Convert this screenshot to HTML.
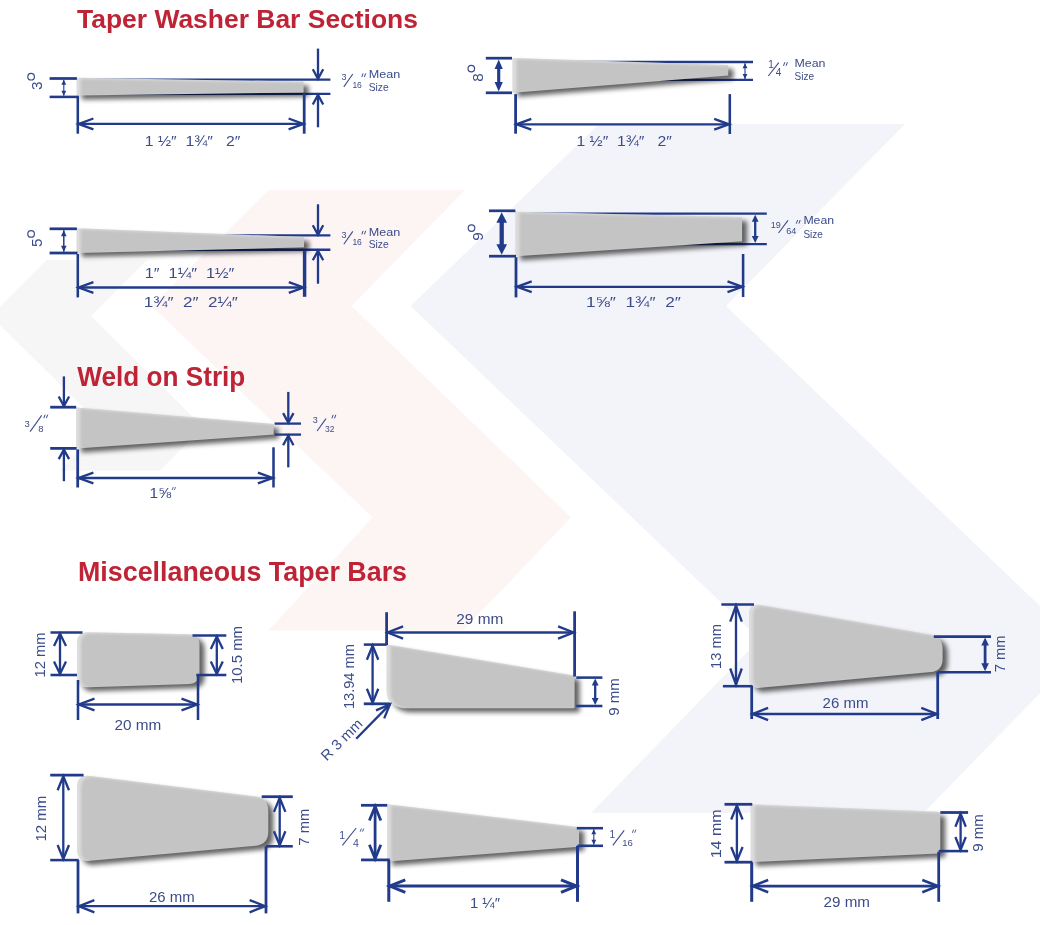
<!DOCTYPE html>
<html lang="en"><head><meta charset="utf-8"><title>Taper Washer Bar Sections</title>
<style>html,body{margin:0;padding:0;background:#fff}body{width:1040px;height:925px;overflow:hidden;font-family:"Liberation Sans",sans-serif}svg{display:block;font-family:"Liberation Sans",sans-serif}</style>
</head><body>
<svg width="1040" height="925" viewBox="0 0 1040 925">
<defs><filter id="sh" x="-10%" y="-40%" width="125%" height="200%" color-interpolation-filters="sRGB"><feGaussianBlur in="SourceAlpha" stdDeviation="2.9" result="b"/><feOffset in="b" dx="4.6" dy="4.2" result="o"/><feComponentTransfer in="o" result="shadow"><feFuncA type="linear" slope="0.62"/></feComponentTransfer><feGaussianBlur in="SourceAlpha" stdDeviation="1.7" result="ib"/><feOffset in="ib" dx="3.6" dy="1.4" result="io"/><feComposite in="SourceAlpha" in2="io" operator="out" result="edge"/><feFlood flood-color="#ffffff" flood-opacity="0.42" result="w"/><feComposite in="w" in2="edge" operator="in" result="hl"/><feMerge><feMergeNode in="shadow"/><feMergeNode in="SourceGraphic"/><feMergeNode in="hl"/></feMerge></filter></defs>
<rect width="1040" height="925" fill="#ffffff"/>
<polygon points="46.5,260 147,260 91,316 203,427 160,470.5 60,470.5 103,427 -9,316" fill="#f6f6f7"/>
<polygon points="269,190 465,190 351.5,306 571,517.5 463,630.5 268.5,630.5 372.5,517.5 151.5,306" fill="#fdf4f4"/>
<polygon points="599,124 905,124 726,306 1084,648 923.5,813 591,813 759.6,639.3 410.6,306" fill="#f3f4f9"/>
<text x="77" y="27.5" font-size="26" textLength="341" lengthAdjust="spacingAndGlyphs" font-weight="bold" fill="#be2436" opacity="0.995">Taper Washer Bar Sections</text>
<text x="77.3" y="386" font-size="28" textLength="168" lengthAdjust="spacingAndGlyphs" font-weight="bold" fill="#be2436" opacity="0.995">Weld on Strip</text>
<text x="78" y="581.3" font-size="27" textLength="329" lengthAdjust="spacingAndGlyphs" font-weight="bold" fill="#be2436" opacity="0.995">Miscellaneous Taper Bars</text>
<line x1="90" y1="79.6" x2="330.4" y2="79.6" stroke="#213b8a" stroke-width="2.44" stroke-linecap="butt"/>
<line x1="90" y1="93.9" x2="330.4" y2="93.9" stroke="#213b8a" stroke-width="2.44" stroke-linecap="butt"/>
<polygon points="76.7,77.8 303.6,81.6 303.6,92.4 76.7,95.4" fill="#c4c4c4" filter="url(#sh)"/>
<line x1="49.6" y1="78.5" x2="76.9" y2="78.5" stroke="#213b8a" stroke-width="2.73" stroke-linecap="butt"/>
<line x1="49.6" y1="96.9" x2="78.9" y2="96.9" stroke="#213b8a" stroke-width="2.55" stroke-linecap="butt"/>
<line x1="63.8" y1="79.8" x2="63.8" y2="95.8" stroke="#213b8a" stroke-width="1.1" stroke-linecap="butt"/>
<polygon points="61.4,90.8 63.8,95.8 66.2,90.8" fill="#213b8a"/>
<polygon points="66.2,84.8 63.8,79.8 61.4,84.8" fill="#213b8a"/>
<line x1="77.8" y1="96.5" x2="77.8" y2="133.7" stroke="#213b8a" stroke-width="2.55" stroke-linecap="butt"/>
<line x1="304.2" y1="93.5" x2="304.2" y2="133.7" stroke="#213b8a" stroke-width="2.78" stroke-linecap="butt"/>
<line x1="78.6" y1="123.9" x2="303.4" y2="123.9" stroke="#213b8a" stroke-width="2.32" stroke-linecap="butt"/>
<polyline points="288.6,129.3 303.4,123.9 288.6,118.5" fill="none" stroke="#213b8a" stroke-width="2.32" stroke-linejoin="miter" stroke-miterlimit="10"/>
<polyline points="93.4,118.5 78.6,123.9 93.4,129.3" fill="none" stroke="#213b8a" stroke-width="2.32" stroke-linejoin="miter" stroke-miterlimit="10"/>
<line x1="318" y1="48.6" x2="318" y2="78.8" stroke="#213b8a" stroke-width="2.32" stroke-linecap="butt"/>
<polyline points="312.8,69.3 318,78.8 323.2,69.3" fill="none" stroke="#213b8a" stroke-width="2.32" stroke-linejoin="miter" stroke-miterlimit="10"/>
<line x1="318" y1="127.3" x2="318" y2="95" stroke="#213b8a" stroke-width="2.32" stroke-linecap="butt"/>
<polyline points="323.2,104.5 318,95 312.8,104.5" fill="none" stroke="#213b8a" stroke-width="2.32" stroke-linejoin="miter" stroke-miterlimit="10"/>
<text x="42.3" y="85.7" font-size="15" text-anchor="middle" textLength="8.5" lengthAdjust="spacingAndGlyphs" transform="rotate(-90 42.3 85.7)" fill="#3c4c8a" opacity="0.995">3</text>
<circle cx="31.1" cy="76.7" r="3.3" fill="none" stroke="#3c4c8a" stroke-width="1.2"/>
<text x="144.8" y="146.3" font-size="15.3" textLength="95.5" lengthAdjust="spacingAndGlyphs" fill="#3c4c8a" opacity="0.995">1 ½″&#160; 1¾″&#160;&#160; 2″</text>
<text x="341.6" y="80.1" font-size="9" fill="#3c4c8a" opacity="0.995">3</text>
<line x1="343.8" y1="86.9" x2="352.8" y2="74" stroke="#3c4c8a" stroke-width="1.1" stroke-linecap="butt"/>
<text x="352.4" y="87.5" font-size="8.5" fill="#3c4c8a" opacity="0.995">16</text>
<line x1="363.1" y1="73.4" x2="361.8" y2="77" stroke="#3c4c8a" stroke-width="1"/>
<line x1="365.7" y1="73.4" x2="364.4" y2="77" stroke="#3c4c8a" stroke-width="1"/>
<text x="368.7" y="78.2" font-size="11.5" textLength="31.5" lengthAdjust="spacingAndGlyphs" fill="#3c4c8a" opacity="0.995">Mean</text>
<text x="368.7" y="90.7" font-size="11.5" textLength="20" lengthAdjust="spacingAndGlyphs" fill="#3c4c8a" opacity="0.995">Size</text>
<line x1="525" y1="62" x2="753" y2="62" stroke="#213b8a" stroke-width="2.44" stroke-linecap="butt"/>
<line x1="525" y1="79.9" x2="753" y2="79.9" stroke="#213b8a" stroke-width="2.44" stroke-linecap="butt"/>
<polygon points="512.5,58.1 728.3,64.9 728.3,75.5 512.5,92.8" fill="#c4c4c4" filter="url(#sh)"/>
<line x1="485.8" y1="58.2" x2="512" y2="58.2" stroke="#213b8a" stroke-width="2.73" stroke-linecap="butt"/>
<line x1="485.8" y1="92.8" x2="512" y2="92.8" stroke="#213b8a" stroke-width="2.73" stroke-linecap="butt"/>
<line x1="498.7" y1="66.2" x2="498.7" y2="84.8" stroke="#213b8a" stroke-width="3.13" stroke-linecap="butt"/>
<polygon points="494.6,82 498.7,91.5 502.8,82" fill="#213b8a"/>
<polygon points="502.8,69 498.7,59.5 494.6,69" fill="#213b8a"/>
<line x1="745" y1="63.2" x2="745" y2="78.9" stroke="#213b8a" stroke-width="1.1" stroke-linecap="butt"/>
<polygon points="742.6,73.9 745,78.9 747.4,73.9" fill="#213b8a"/>
<polygon points="747.4,68.2 745,63.2 742.6,68.2" fill="#213b8a"/>
<line x1="515.6" y1="94.1" x2="515.6" y2="133.7" stroke="#213b8a" stroke-width="2.78" stroke-linecap="butt"/>
<line x1="729.8" y1="94.1" x2="729.8" y2="134" stroke="#213b8a" stroke-width="2.55" stroke-linecap="butt"/>
<line x1="516.5" y1="124.3" x2="729" y2="124.3" stroke="#213b8a" stroke-width="2.32" stroke-linecap="butt"/>
<polyline points="714.2,129.7 729,124.3 714.2,118.9" fill="none" stroke="#213b8a" stroke-width="2.32" stroke-linejoin="miter" stroke-miterlimit="10"/>
<polyline points="531.3,118.9 516.5,124.3 531.3,129.7" fill="none" stroke="#213b8a" stroke-width="2.32" stroke-linejoin="miter" stroke-miterlimit="10"/>
<text x="482.9" y="77.6" font-size="15" text-anchor="middle" textLength="8.5" lengthAdjust="spacingAndGlyphs" transform="rotate(-90 482.9 77.6)" fill="#3c4c8a" opacity="0.995">8</text>
<circle cx="471.3" cy="68.6" r="3.3" fill="none" stroke="#3c4c8a" stroke-width="1.2"/>
<text x="576.4" y="145.9" font-size="15.3" textLength="95.5" lengthAdjust="spacingAndGlyphs" fill="#3c4c8a" opacity="0.995">1 ½″&#160; 1¾″&#160;&#160; 2″</text>
<text x="768.2" y="68" font-size="10" fill="#3c4c8a" opacity="0.995">1</text>
<line x1="768.3" y1="76" x2="778.8" y2="62.6" stroke="#3c4c8a" stroke-width="1.1" stroke-linecap="butt"/>
<text x="775.8" y="76.4" font-size="10" fill="#3c4c8a" opacity="0.995">4</text>
<line x1="784.8" y1="62.2" x2="783.5" y2="65.8" stroke="#3c4c8a" stroke-width="1"/>
<line x1="787.4" y1="62.2" x2="786.1" y2="65.8" stroke="#3c4c8a" stroke-width="1"/>
<text x="794.5" y="67.4" font-size="11.5" textLength="31" lengthAdjust="spacingAndGlyphs" fill="#3c4c8a" opacity="0.995">Mean</text>
<text x="794.5" y="79.9" font-size="11.5" textLength="19.5" lengthAdjust="spacingAndGlyphs" fill="#3c4c8a" opacity="0.995">Size</text>
<line x1="90" y1="235.4" x2="330.4" y2="235.4" stroke="#213b8a" stroke-width="2.44" stroke-linecap="butt"/>
<line x1="90" y1="249.8" x2="330.4" y2="249.8" stroke="#213b8a" stroke-width="2.44" stroke-linecap="butt"/>
<polygon points="76.7,228.2 304,237.1 304,247.3 76.7,253" fill="#c4c4c4" filter="url(#sh)"/>
<line x1="49.6" y1="228.8" x2="76.9" y2="228.8" stroke="#213b8a" stroke-width="2.73" stroke-linecap="butt"/>
<line x1="49.6" y1="253" x2="77.5" y2="253" stroke="#213b8a" stroke-width="2.78" stroke-linecap="butt"/>
<line x1="63.8" y1="230.2" x2="63.8" y2="251.8" stroke="#213b8a" stroke-width="1.5" stroke-linecap="butt"/>
<polygon points="61,245.8 63.8,251.8 66.6,245.8" fill="#213b8a"/>
<polygon points="66.6,236.2 63.8,230.2 61,236.2" fill="#213b8a"/>
<line x1="77.8" y1="254" x2="77.8" y2="297.4" stroke="#213b8a" stroke-width="2.55" stroke-linecap="butt"/>
<line x1="304.6" y1="250.5" x2="304.6" y2="296.8" stroke="#213b8a" stroke-width="3.48" stroke-linecap="butt"/>
<line x1="78.6" y1="287.5" x2="303.6" y2="287.5" stroke="#213b8a" stroke-width="2.32" stroke-linecap="butt"/>
<polyline points="288.8,292.9 303.6,287.5 288.8,282.1" fill="none" stroke="#213b8a" stroke-width="2.32" stroke-linejoin="miter" stroke-miterlimit="10"/>
<polyline points="93.4,282.1 78.6,287.5 93.4,292.9" fill="none" stroke="#213b8a" stroke-width="2.32" stroke-linejoin="miter" stroke-miterlimit="10"/>
<line x1="318" y1="204.3" x2="318" y2="234.8" stroke="#213b8a" stroke-width="2.32" stroke-linecap="butt"/>
<polyline points="312.8,225.3 318,234.8 323.2,225.3" fill="none" stroke="#213b8a" stroke-width="2.32" stroke-linejoin="miter" stroke-miterlimit="10"/>
<line x1="318" y1="283.7" x2="318" y2="250.8" stroke="#213b8a" stroke-width="2.32" stroke-linecap="butt"/>
<polyline points="323.2,260.3 318,250.8 312.8,260.3" fill="none" stroke="#213b8a" stroke-width="2.32" stroke-linejoin="miter" stroke-miterlimit="10"/>
<text x="42.3" y="242.7" font-size="15" text-anchor="middle" textLength="8.5" lengthAdjust="spacingAndGlyphs" transform="rotate(-90 42.3 242.7)" fill="#3c4c8a" opacity="0.995">5</text>
<circle cx="31.1" cy="233.9" r="3.3" fill="none" stroke="#3c4c8a" stroke-width="1.2"/>
<text x="144.8" y="277.7" font-size="15.3" textLength="89.5" lengthAdjust="spacingAndGlyphs" fill="#3c4c8a" opacity="0.995">1″&#160; 1¼″&#160; 1½″</text>
<text x="143.8" y="307.3" font-size="15.3" textLength="94" lengthAdjust="spacingAndGlyphs" fill="#3c4c8a" opacity="0.995">1¾″&#160; 2″&#160; 2¼″</text>
<text x="341.6" y="237.5" font-size="9" fill="#3c4c8a" opacity="0.995">3</text>
<line x1="343.8" y1="244.3" x2="352.8" y2="231.4" stroke="#3c4c8a" stroke-width="1.1" stroke-linecap="butt"/>
<text x="352.4" y="244.9" font-size="8.5" fill="#3c4c8a" opacity="0.995">16</text>
<line x1="363.1" y1="230.8" x2="361.8" y2="234.4" stroke="#3c4c8a" stroke-width="1"/>
<line x1="365.7" y1="230.8" x2="364.4" y2="234.4" stroke="#3c4c8a" stroke-width="1"/>
<text x="368.7" y="235.6" font-size="11.5" textLength="31.5" lengthAdjust="spacingAndGlyphs" fill="#3c4c8a" opacity="0.995">Mean</text>
<text x="368.7" y="248.1" font-size="11.5" textLength="20" lengthAdjust="spacingAndGlyphs" fill="#3c4c8a" opacity="0.995">Size</text>
<line x1="530" y1="213.6" x2="766.8" y2="213.6" stroke="#213b8a" stroke-width="2.44" stroke-linecap="butt"/>
<line x1="530" y1="244.1" x2="766.8" y2="244.1" stroke="#213b8a" stroke-width="2.44" stroke-linecap="butt"/>
<polygon points="515.4,211.7 742.1,217 742.1,241.3 515.4,256.2" fill="#c4c4c4" filter="url(#sh)"/>
<line x1="489" y1="210.8" x2="515.4" y2="210.8" stroke="#213b8a" stroke-width="2.73" stroke-linecap="butt"/>
<line x1="489" y1="256.2" x2="516" y2="256.2" stroke="#213b8a" stroke-width="2.73" stroke-linecap="butt"/>
<line x1="501.7" y1="219.5" x2="501.7" y2="247.5" stroke="#213b8a" stroke-width="4.29" stroke-linecap="butt"/>
<polygon points="496.4,244.3 501.7,254.8 507,244.3" fill="#213b8a"/>
<polygon points="507,222.7 501.7,212.2 496.4,222.7" fill="#213b8a"/>
<line x1="755.2" y1="219.7" x2="755.2" y2="238.2" stroke="#213b8a" stroke-width="2.32" stroke-linecap="butt"/>
<polygon points="751.8,236.1 755.2,243.1 758.6,236.1" fill="#213b8a"/>
<polygon points="758.6,221.8 755.2,214.8 751.8,221.8" fill="#213b8a"/>
<line x1="516" y1="257.2" x2="516" y2="297.4" stroke="#213b8a" stroke-width="2.78" stroke-linecap="butt"/>
<line x1="743.1" y1="254" x2="743.1" y2="297" stroke="#213b8a" stroke-width="2.55" stroke-linecap="butt"/>
<line x1="516.9" y1="286.8" x2="742.3" y2="286.8" stroke="#213b8a" stroke-width="2.32" stroke-linecap="butt"/>
<polyline points="727.5,292.2 742.3,286.8 727.5,281.4" fill="none" stroke="#213b8a" stroke-width="2.32" stroke-linejoin="miter" stroke-miterlimit="10"/>
<polyline points="531.7,281.4 516.9,286.8 531.7,292.2" fill="none" stroke="#213b8a" stroke-width="2.32" stroke-linejoin="miter" stroke-miterlimit="10"/>
<text x="482.8" y="236.6" font-size="15" text-anchor="middle" textLength="8.5" lengthAdjust="spacingAndGlyphs" transform="rotate(-90 482.8 236.6)" fill="#3c4c8a" opacity="0.995">9</text>
<circle cx="471.5" cy="228.1" r="3.3" fill="none" stroke="#3c4c8a" stroke-width="1.2"/>
<text x="585.9" y="306.9" font-size="15.3" textLength="95" lengthAdjust="spacingAndGlyphs" fill="#3c4c8a" opacity="0.995">1⅝″&#160; 1¾″&#160; 2″</text>
<text x="770.8" y="227.6" font-size="9" fill="#3c4c8a" opacity="0.995">19</text>
<line x1="778.5" y1="233" x2="788" y2="220.3" stroke="#3c4c8a" stroke-width="1.1" stroke-linecap="butt"/>
<text x="786.3" y="234.2" font-size="9" fill="#3c4c8a" opacity="0.995">64</text>
<line x1="797.6" y1="220" x2="796.3" y2="223.6" stroke="#3c4c8a" stroke-width="1"/>
<line x1="800.2" y1="220" x2="798.9" y2="223.6" stroke="#3c4c8a" stroke-width="1"/>
<text x="803.4" y="224.4" font-size="11.5" textLength="30.7" lengthAdjust="spacingAndGlyphs" fill="#3c4c8a" opacity="0.995">Mean</text>
<text x="803.4" y="237.5" font-size="11.5" textLength="19.5" lengthAdjust="spacingAndGlyphs" fill="#3c4c8a" opacity="0.995">Size</text>
<polygon points="76.2,407.5 273.7,424 273.7,434.6 76.2,448.4" fill="#c4c4c4" filter="url(#sh)"/>
<line x1="50.2" y1="407.2" x2="76.2" y2="407.2" stroke="#213b8a" stroke-width="2.78" stroke-linecap="butt"/>
<line x1="50.2" y1="448.4" x2="76.6" y2="448.4" stroke="#213b8a" stroke-width="2.78" stroke-linecap="butt"/>
<line x1="63.9" y1="376.4" x2="63.9" y2="406" stroke="#213b8a" stroke-width="2.32" stroke-linecap="butt"/>
<polyline points="58.7,396.5 63.9,406 69.1,396.5" fill="none" stroke="#213b8a" stroke-width="2.32" stroke-linejoin="miter" stroke-miterlimit="10"/>
<line x1="63.9" y1="481.2" x2="63.9" y2="449.6" stroke="#213b8a" stroke-width="2.32" stroke-linecap="butt"/>
<polyline points="69.1,459.1 63.9,449.6 58.7,459.1" fill="none" stroke="#213b8a" stroke-width="2.32" stroke-linejoin="miter" stroke-miterlimit="10"/>
<line x1="77.7" y1="449.4" x2="77.7" y2="487.5" stroke="#213b8a" stroke-width="2.78" stroke-linecap="butt"/>
<line x1="273.5" y1="447.3" x2="273.5" y2="487.5" stroke="#213b8a" stroke-width="2.55" stroke-linecap="butt"/>
<line x1="78.6" y1="478" x2="272.7" y2="478" stroke="#213b8a" stroke-width="2.32" stroke-linecap="butt"/>
<polyline points="257.9,483.4 272.7,478 257.9,472.6" fill="none" stroke="#213b8a" stroke-width="2.32" stroke-linejoin="miter" stroke-miterlimit="10"/>
<polyline points="93.4,472.6 78.6,478 93.4,483.4" fill="none" stroke="#213b8a" stroke-width="2.32" stroke-linejoin="miter" stroke-miterlimit="10"/>
<line x1="274.6" y1="423.6" x2="301" y2="423.6" stroke="#213b8a" stroke-width="2.32" stroke-linecap="butt"/>
<line x1="274.6" y1="434.6" x2="301" y2="434.6" stroke="#213b8a" stroke-width="2.32" stroke-linecap="butt"/>
<line x1="288.3" y1="391.9" x2="288.3" y2="422.6" stroke="#213b8a" stroke-width="2.32" stroke-linecap="butt"/>
<polyline points="283.1,413.1 288.3,422.6 293.5,413.1" fill="none" stroke="#213b8a" stroke-width="2.32" stroke-linejoin="miter" stroke-miterlimit="10"/>
<line x1="288.3" y1="467.4" x2="288.3" y2="435.7" stroke="#213b8a" stroke-width="2.32" stroke-linecap="butt"/>
<polyline points="293.5,445.2 288.3,435.7 283.1,445.2" fill="none" stroke="#213b8a" stroke-width="2.32" stroke-linejoin="miter" stroke-miterlimit="10"/>
<text x="24.6" y="426.6" font-size="9.5" fill="#3c4c8a" opacity="0.995">3</text>
<line x1="30.1" y1="431.6" x2="41.7" y2="415.4" stroke="#3c4c8a" stroke-width="1.1" stroke-linecap="butt"/>
<text x="38.2" y="432.4" font-size="9.5" fill="#3c4c8a" opacity="0.995">8</text>
<line x1="45.1" y1="414.6" x2="43.8" y2="418.2" stroke="#3c4c8a" stroke-width="1"/>
<line x1="47.7" y1="414.6" x2="46.4" y2="418.2" stroke="#3c4c8a" stroke-width="1"/>
<text x="312.8" y="423.4" font-size="9" fill="#3c4c8a" opacity="0.995">3</text>
<line x1="317.1" y1="431" x2="326" y2="418.6" stroke="#3c4c8a" stroke-width="1.1" stroke-linecap="butt"/>
<text x="325" y="432" font-size="8.5" fill="#3c4c8a" opacity="0.995">32</text>
<line x1="333.2" y1="414.8" x2="331.9" y2="418.4" stroke="#3c4c8a" stroke-width="1"/>
<line x1="335.8" y1="414.8" x2="334.5" y2="418.4" stroke="#3c4c8a" stroke-width="1"/>
<text x="149.6" y="498.1" font-size="14" textLength="21.5" lengthAdjust="spacingAndGlyphs" fill="#3c4c8a" opacity="0.995">1⅝</text>
<line x1="173.3" y1="487" x2="172.2" y2="490.1" stroke="#3c4c8a" stroke-width="0.8"/>
<line x1="175.5" y1="487" x2="174.4" y2="490.1" stroke="#3c4c8a" stroke-width="0.8"/>
<path d="M77,643 Q77,632 88,632.2 L188.5,634.3 Q199.5,634.5 199.5,645.5 L199.5,672.8 Q199.5,683.8 188.5,684.1 L88,687.2 Q77,687.5 77,676.5 Z" fill="#c4c4c4" filter="url(#sh)"/>
<line x1="50.5" y1="632.5" x2="82.5" y2="632.5" stroke="#213b8a" stroke-width="2.55" stroke-linecap="butt"/>
<line x1="50.5" y1="675" x2="77" y2="675" stroke="#213b8a" stroke-width="2.55" stroke-linecap="butt"/>
<line x1="60" y1="633.6" x2="60" y2="673.9" stroke="#213b8a" stroke-width="2.32" stroke-linecap="butt"/>
<polyline points="54,661.4 60,673.9 66,661.4" fill="none" stroke="#213b8a" stroke-width="2.32" stroke-linejoin="miter" stroke-miterlimit="10"/>
<polyline points="66,646.1 60,633.6 54,646.1" fill="none" stroke="#213b8a" stroke-width="2.32" stroke-linejoin="miter" stroke-miterlimit="10"/>
<text x="45.4" y="655" font-size="15" text-anchor="middle" textLength="45" lengthAdjust="spacingAndGlyphs" transform="rotate(-90 45.4 655)" fill="#3c4c8a" opacity="0.995">12 mm</text>
<line x1="192.5" y1="635.5" x2="226.3" y2="635.5" stroke="#213b8a" stroke-width="2.55" stroke-linecap="butt"/>
<line x1="196.3" y1="675" x2="226.3" y2="675" stroke="#213b8a" stroke-width="2.55" stroke-linecap="butt"/>
<line x1="216.8" y1="636.6" x2="216.8" y2="673.9" stroke="#213b8a" stroke-width="2.32" stroke-linecap="butt"/>
<polyline points="210.8,661.4 216.8,673.9 222.8,661.4" fill="none" stroke="#213b8a" stroke-width="2.32" stroke-linejoin="miter" stroke-miterlimit="10"/>
<polyline points="222.8,649.1 216.8,636.6 210.8,649.1" fill="none" stroke="#213b8a" stroke-width="2.32" stroke-linejoin="miter" stroke-miterlimit="10"/>
<text x="241.7" y="655" font-size="15" text-anchor="middle" textLength="58" lengthAdjust="spacingAndGlyphs" transform="rotate(-90 241.7 655)" fill="#3c4c8a" opacity="0.995">10.5 mm</text>
<line x1="78" y1="680" x2="78" y2="720" stroke="#213b8a" stroke-width="2.55" stroke-linecap="butt"/>
<line x1="198" y1="675" x2="198" y2="720" stroke="#213b8a" stroke-width="2.55" stroke-linecap="butt"/>
<line x1="78.8" y1="704.5" x2="197.2" y2="704.5" stroke="#213b8a" stroke-width="2.32" stroke-linecap="butt"/>
<polyline points="181.5,710.4 197.2,704.5 181.5,698.6" fill="none" stroke="#213b8a" stroke-width="2.32" stroke-linejoin="miter" stroke-miterlimit="10"/>
<polyline points="94.5,698.6 78.8,704.5 94.5,710.4" fill="none" stroke="#213b8a" stroke-width="2.32" stroke-linejoin="miter" stroke-miterlimit="10"/>
<text x="114.5" y="729.5" font-size="14.5" textLength="46.8" lengthAdjust="spacingAndGlyphs" fill="#3c4c8a" opacity="0.995">20 mm</text>
<path d="M386.6,644.6 L574.6,675.7 L574.6,707 Q574.6,708.3 573,708.3 L404,708.3 Q386.6,706 386.6,690 Z" fill="#c4c4c4" filter="url(#sh)"/>
<line x1="386.6" y1="612.2" x2="386.6" y2="645" stroke="#213b8a" stroke-width="2.78" stroke-linecap="butt"/>
<line x1="574.6" y1="611.3" x2="574.6" y2="676.6" stroke="#213b8a" stroke-width="2.78" stroke-linecap="butt"/>
<line x1="387.6" y1="632.5" x2="573.6" y2="632.5" stroke="#213b8a" stroke-width="2.32" stroke-linecap="butt"/>
<polyline points="558.1,638.6 573.6,632.5 558.1,626.4" fill="none" stroke="#213b8a" stroke-width="2.32" stroke-linejoin="miter" stroke-miterlimit="10"/>
<polyline points="403.1,626.4 387.6,632.5 403.1,638.6" fill="none" stroke="#213b8a" stroke-width="2.32" stroke-linejoin="miter" stroke-miterlimit="10"/>
<text x="456.3" y="624.3" font-size="14.5" textLength="47" lengthAdjust="spacingAndGlyphs" fill="#3c4c8a" opacity="0.995">29 mm</text>
<line x1="363.8" y1="644.6" x2="386.6" y2="644.6" stroke="#213b8a" stroke-width="2.55" stroke-linecap="butt"/>
<line x1="363.8" y1="703.8" x2="390" y2="703.8" stroke="#213b8a" stroke-width="2.78" stroke-linecap="butt"/>
<line x1="372.6" y1="645.7" x2="372.6" y2="702.7" stroke="#213b8a" stroke-width="2.32" stroke-linecap="butt"/>
<polyline points="366.9,688.7 372.6,702.7 378.3,688.7" fill="none" stroke="#213b8a" stroke-width="2.32" stroke-linejoin="miter" stroke-miterlimit="10"/>
<polyline points="378.3,659.7 372.6,645.7 366.9,659.7" fill="none" stroke="#213b8a" stroke-width="2.32" stroke-linejoin="miter" stroke-miterlimit="10"/>
<text x="354.4" y="676.6" font-size="15" text-anchor="middle" textLength="65" lengthAdjust="spacingAndGlyphs" transform="rotate(-90 354.4 676.6)" fill="#3c4c8a" opacity="0.995">13.94 mm</text>
<line x1="576.3" y1="677.6" x2="602.4" y2="677.6" stroke="#213b8a" stroke-width="2.55" stroke-linecap="butt"/>
<line x1="576.3" y1="706" x2="602.4" y2="706" stroke="#213b8a" stroke-width="2.55" stroke-linecap="butt"/>
<line x1="595.2" y1="683.5" x2="595.2" y2="700.1" stroke="#213b8a" stroke-width="2.32" stroke-linecap="butt"/>
<polygon points="591.8,698 595.2,705 598.6,698" fill="#213b8a"/>
<polygon points="598.6,685.6 595.2,678.6 591.8,685.6" fill="#213b8a"/>
<text x="619.3" y="697" font-size="15" text-anchor="middle" textLength="37.6" lengthAdjust="spacingAndGlyphs" transform="rotate(-90 619.3 697)" fill="#3c4c8a" opacity="0.995">9 mm</text>
<line x1="356.2" y1="738.8" x2="389.9" y2="704.4" stroke="#213b8a" stroke-width="2.32" stroke-linecap="butt"/>
<polyline points="384.2,718.4 389.9,704.4 376,710.4" fill="none" stroke="#213b8a" stroke-width="2.32" stroke-linejoin="miter" stroke-miterlimit="10"/>
<text x="341.5" y="739.6" font-size="14.5" text-anchor="middle" textLength="52" lengthAdjust="spacingAndGlyphs" transform="rotate(-45 341.5 739.6) translate(0 5)" fill="#3c4c8a" opacity="0.995">R 3 mm</text>
<path d="M749,614.2 Q749,603.2 759.8,605.1 L930.8,634.7 Q942.6,636.8 942.6,648.8 L942.6,659 Q942.6,671 930.7,672.1 L760,687.8 Q749,688.8 749,677.8 Z" fill="#c4c4c4" filter="url(#sh)"/>
<line x1="721.3" y1="604.5" x2="754" y2="604.5" stroke="#213b8a" stroke-width="2.55" stroke-linecap="butt"/>
<line x1="722.9" y1="686.2" x2="752.3" y2="686.2" stroke="#213b8a" stroke-width="2.55" stroke-linecap="butt"/>
<line x1="736" y1="605.6" x2="736" y2="684.5" stroke="#213b8a" stroke-width="2.32" stroke-linecap="butt"/>
<polyline points="730.2,668.5 736,684.5 741.8,668.5" fill="none" stroke="#213b8a" stroke-width="2.32" stroke-linejoin="miter" stroke-miterlimit="10"/>
<polyline points="741.8,621.6 736,605.6 730.2,621.6" fill="none" stroke="#213b8a" stroke-width="2.32" stroke-linejoin="miter" stroke-miterlimit="10"/>
<text x="721.1" y="646.5" font-size="15" text-anchor="middle" textLength="44.8" lengthAdjust="spacingAndGlyphs" transform="rotate(-90 721.1 646.5)" fill="#3c4c8a" opacity="0.995">13 mm</text>
<line x1="751.7" y1="685.6" x2="751.7" y2="719" stroke="#213b8a" stroke-width="2.78" stroke-linecap="butt"/>
<line x1="937.7" y1="672.2" x2="937.7" y2="719" stroke="#213b8a" stroke-width="2.78" stroke-linecap="butt"/>
<line x1="752.6" y1="714" x2="936.8" y2="714" stroke="#213b8a" stroke-width="2.32" stroke-linecap="butt"/>
<polyline points="921.3,720.1 936.8,714 921.3,707.9" fill="none" stroke="#213b8a" stroke-width="2.32" stroke-linejoin="miter" stroke-miterlimit="10"/>
<polyline points="768.1,707.9 752.6,714 768.1,720.1" fill="none" stroke="#213b8a" stroke-width="2.32" stroke-linejoin="miter" stroke-miterlimit="10"/>
<text x="822.6" y="708.2" font-size="14.5" textLength="45.8" lengthAdjust="spacingAndGlyphs" fill="#3c4c8a" opacity="0.995">26 mm</text>
<line x1="933.8" y1="636.6" x2="991" y2="636.6" stroke="#213b8a" stroke-width="2.55" stroke-linecap="butt"/>
<line x1="937.7" y1="672.2" x2="991" y2="672.2" stroke="#213b8a" stroke-width="2.55" stroke-linecap="butt"/>
<line x1="985.1" y1="643.2" x2="985.1" y2="665.6" stroke="#213b8a" stroke-width="2.78" stroke-linecap="butt"/>
<polygon points="981.3,663.2 985.1,671.2 988.9,663.2" fill="#213b8a"/>
<polygon points="988.9,645.6 985.1,637.6 981.3,645.6" fill="#213b8a"/>
<text x="1005.5" y="653.9" font-size="15" text-anchor="middle" textLength="36.6" lengthAdjust="spacingAndGlyphs" transform="rotate(-90 1005.5 653.9)" fill="#3c4c8a" opacity="0.995">7 mm</text>
<path d="M77,787.4 Q77,774.4 89.9,776 L255.4,796.4 Q268.3,798 268.3,811 L268.3,831.5 Q268.3,844.5 255.4,845.7 L89.9,860.8 Q77,862 77,849 Z" fill="#c4c4c4" filter="url(#sh)"/>
<line x1="50.2" y1="775.1" x2="83.6" y2="775.1" stroke="#213b8a" stroke-width="2.78" stroke-linecap="butt"/>
<line x1="50.2" y1="860.1" x2="78.7" y2="860.1" stroke="#213b8a" stroke-width="2.55" stroke-linecap="butt"/>
<line x1="63.3" y1="776.3" x2="63.3" y2="859" stroke="#213b8a" stroke-width="2.32" stroke-linecap="butt"/>
<polyline points="57.6,845 63.3,859 69,845" fill="none" stroke="#213b8a" stroke-width="2.32" stroke-linejoin="miter" stroke-miterlimit="10"/>
<polyline points="69,790.3 63.3,776.3 57.6,790.3" fill="none" stroke="#213b8a" stroke-width="2.32" stroke-linejoin="miter" stroke-miterlimit="10"/>
<text x="46.5" y="818.6" font-size="15" text-anchor="middle" textLength="45.8" lengthAdjust="spacingAndGlyphs" transform="rotate(-90 46.5 818.6)" fill="#3c4c8a" opacity="0.995">12 mm</text>
<line x1="78" y1="860.1" x2="78" y2="913.4" stroke="#213b8a" stroke-width="2.78" stroke-linecap="butt"/>
<line x1="266" y1="846.3" x2="266" y2="913.4" stroke="#213b8a" stroke-width="2.78" stroke-linecap="butt"/>
<line x1="78.9" y1="906.2" x2="265.1" y2="906.2" stroke="#213b8a" stroke-width="2.32" stroke-linecap="butt"/>
<polyline points="249.6,912.3 265.1,906.2 249.6,900.1" fill="none" stroke="#213b8a" stroke-width="2.32" stroke-linejoin="miter" stroke-miterlimit="10"/>
<polyline points="94.4,900.1 78.9,906.2 94.4,912.3" fill="none" stroke="#213b8a" stroke-width="2.32" stroke-linejoin="miter" stroke-miterlimit="10"/>
<text x="148.9" y="901.9" font-size="14.5" textLength="45.8" lengthAdjust="spacingAndGlyphs" fill="#3c4c8a" opacity="0.995">26 mm</text>
<line x1="261.7" y1="796.7" x2="292.8" y2="796.7" stroke="#213b8a" stroke-width="2.78" stroke-linecap="butt"/>
<line x1="266" y1="846.3" x2="292.8" y2="846.3" stroke="#213b8a" stroke-width="2.55" stroke-linecap="butt"/>
<line x1="279.7" y1="797.9" x2="279.7" y2="845.2" stroke="#213b8a" stroke-width="2.32" stroke-linecap="butt"/>
<polyline points="274,831.2 279.7,845.2 285.4,831.2" fill="none" stroke="#213b8a" stroke-width="2.32" stroke-linejoin="miter" stroke-miterlimit="10"/>
<polyline points="285.4,811.9 279.7,797.9 274,811.9" fill="none" stroke="#213b8a" stroke-width="2.32" stroke-linejoin="miter" stroke-miterlimit="10"/>
<text x="308.7" y="827.2" font-size="15" text-anchor="middle" textLength="37" lengthAdjust="spacingAndGlyphs" transform="rotate(-90 308.7 827.2)" fill="#3c4c8a" opacity="0.995">7 mm</text>
<polygon points="387.2,804.3 579.1,827.2 579.1,846.8 387.2,861.5" fill="#c4c4c4" filter="url(#sh)"/>
<line x1="361" y1="805.3" x2="387.2" y2="805.3" stroke="#213b8a" stroke-width="2.78" stroke-linecap="butt"/>
<line x1="361" y1="859.9" x2="389.8" y2="859.9" stroke="#213b8a" stroke-width="2.78" stroke-linecap="butt"/>
<line x1="375.1" y1="806.5" x2="375.1" y2="858.7" stroke="#213b8a" stroke-width="2.78" stroke-linecap="butt"/>
<polyline points="369.4,844.7 375.1,858.7 380.8,844.7" fill="none" stroke="#213b8a" stroke-width="2.78" stroke-linejoin="miter" stroke-miterlimit="10"/>
<polyline points="380.8,820.5 375.1,806.5 369.4,820.5" fill="none" stroke="#213b8a" stroke-width="2.78" stroke-linejoin="miter" stroke-miterlimit="10"/>
<text x="339.3" y="838.9" font-size="10.5" fill="#3c4c8a" opacity="0.995">1</text>
<line x1="342.4" y1="845.4" x2="356.2" y2="828" stroke="#3c4c8a" stroke-width="1.1" stroke-linecap="butt"/>
<text x="353" y="847" font-size="10.5" fill="#3c4c8a" opacity="0.995">4</text>
<line x1="361.4" y1="828.5" x2="360.2" y2="831.7" stroke="#3c4c8a" stroke-width="0.9"/>
<line x1="363.7" y1="828.5" x2="362.5" y2="831.7" stroke="#3c4c8a" stroke-width="0.9"/>
<line x1="388.8" y1="859.9" x2="388.8" y2="901.8" stroke="#213b8a" stroke-width="3.02" stroke-linecap="butt"/>
<line x1="577.5" y1="845.8" x2="577.5" y2="901.8" stroke="#213b8a" stroke-width="3.02" stroke-linecap="butt"/>
<line x1="389.8" y1="886.1" x2="576.5" y2="886.1" stroke="#213b8a" stroke-width="3.02" stroke-linecap="butt"/>
<polyline points="561,892.3 576.5,886.1 561,879.9" fill="none" stroke="#213b8a" stroke-width="3.02" stroke-linejoin="miter" stroke-miterlimit="10"/>
<polyline points="405.3,879.9 389.8,886.1 405.3,892.3" fill="none" stroke="#213b8a" stroke-width="3.02" stroke-linejoin="miter" stroke-miterlimit="10"/>
<text x="469.9" y="907.5" font-size="15.3" textLength="30" lengthAdjust="spacingAndGlyphs" fill="#3c4c8a" opacity="0.995">1 ¼″</text>
<line x1="576.8" y1="828.2" x2="603" y2="828.2" stroke="#213b8a" stroke-width="2.55" stroke-linecap="butt"/>
<line x1="577.5" y1="845.8" x2="603" y2="845.8" stroke="#213b8a" stroke-width="2.55" stroke-linecap="butt"/>
<line x1="593.8" y1="829.2" x2="593.8" y2="844.8" stroke="#213b8a" stroke-width="1.1" stroke-linecap="butt"/>
<polygon points="591.4,839.8 593.8,844.8 596.2,839.8" fill="#213b8a"/>
<polygon points="596.2,834.2 593.8,829.2 591.4,834.2" fill="#213b8a"/>
<text x="609.5" y="838.2" font-size="10" fill="#3c4c8a" opacity="0.995">1</text>
<line x1="612.8" y1="845.4" x2="624.2" y2="830.3" stroke="#3c4c8a" stroke-width="1.1" stroke-linecap="butt"/>
<text x="622.2" y="846" font-size="9.5" fill="#3c4c8a" opacity="0.995">16</text>
<line x1="633.6" y1="829.6" x2="632.4" y2="832.8" stroke="#3c4c8a" stroke-width="0.9"/>
<line x1="635.9" y1="829.6" x2="634.7" y2="832.8" stroke="#3c4c8a" stroke-width="0.9"/>
<path d="M750.7,806.8 Q750.7,804.3 753.2,804.4 L937.8,811.7 Q940.3,811.8 940.3,814.3 L940.3,850.9 Q940.3,853.4 937.8,853.5 L753.2,862.1 Q750.7,862.2 750.7,859.7 Z" fill="#c4c4c4" filter="url(#sh)"/>
<line x1="724.5" y1="804.3" x2="752.3" y2="804.3" stroke="#213b8a" stroke-width="2.78" stroke-linecap="butt"/>
<line x1="724.5" y1="862.2" x2="752.3" y2="862.2" stroke="#213b8a" stroke-width="2.78" stroke-linecap="butt"/>
<line x1="736.9" y1="805.5" x2="736.9" y2="861" stroke="#213b8a" stroke-width="2.32" stroke-linecap="butt"/>
<polyline points="731.2,847 736.9,861 742.6,847" fill="none" stroke="#213b8a" stroke-width="2.32" stroke-linejoin="miter" stroke-miterlimit="10"/>
<polyline points="742.6,819.5 736.9,805.5 731.2,819.5" fill="none" stroke="#213b8a" stroke-width="2.32" stroke-linejoin="miter" stroke-miterlimit="10"/>
<text x="721.1" y="833.8" font-size="15" text-anchor="middle" textLength="49" lengthAdjust="spacingAndGlyphs" transform="rotate(-90 721.1 833.8)" fill="#3c4c8a" opacity="0.995">14 mm</text>
<line x1="751.7" y1="862.2" x2="751.7" y2="901.8" stroke="#213b8a" stroke-width="3.02" stroke-linecap="butt"/>
<line x1="938.7" y1="851.7" x2="938.7" y2="901.8" stroke="#213b8a" stroke-width="2.78" stroke-linecap="butt"/>
<line x1="752.7" y1="886.1" x2="937.8" y2="886.1" stroke="#213b8a" stroke-width="2.55" stroke-linecap="butt"/>
<polyline points="922.3,892.2 937.8,886.1 922.3,880" fill="none" stroke="#213b8a" stroke-width="2.55" stroke-linejoin="miter" stroke-miterlimit="10"/>
<polyline points="768.2,880 752.7,886.1 768.2,892.2" fill="none" stroke="#213b8a" stroke-width="2.55" stroke-linejoin="miter" stroke-miterlimit="10"/>
<text x="823.6" y="906.7" font-size="14.5" textLength="46.4" lengthAdjust="spacingAndGlyphs" fill="#3c4c8a" opacity="0.995">29 mm</text>
<line x1="940.3" y1="812.5" x2="968.1" y2="812.5" stroke="#213b8a" stroke-width="2.78" stroke-linecap="butt"/>
<line x1="938.7" y1="851.1" x2="968.1" y2="851.1" stroke="#213b8a" stroke-width="2.55" stroke-linecap="butt"/>
<line x1="960.6" y1="813.7" x2="960.6" y2="850" stroke="#213b8a" stroke-width="2.32" stroke-linecap="butt"/>
<polyline points="955.4,837 960.6,850 965.8,837" fill="none" stroke="#213b8a" stroke-width="2.32" stroke-linejoin="miter" stroke-miterlimit="10"/>
<polyline points="965.8,826.7 960.6,813.7 955.4,826.7" fill="none" stroke="#213b8a" stroke-width="2.32" stroke-linejoin="miter" stroke-miterlimit="10"/>
<text x="983.3" y="832.9" font-size="15" text-anchor="middle" textLength="37.6" lengthAdjust="spacingAndGlyphs" transform="rotate(-90 983.3 832.9)" fill="#3c4c8a" opacity="0.995">9 mm</text>
</svg></body></html>
